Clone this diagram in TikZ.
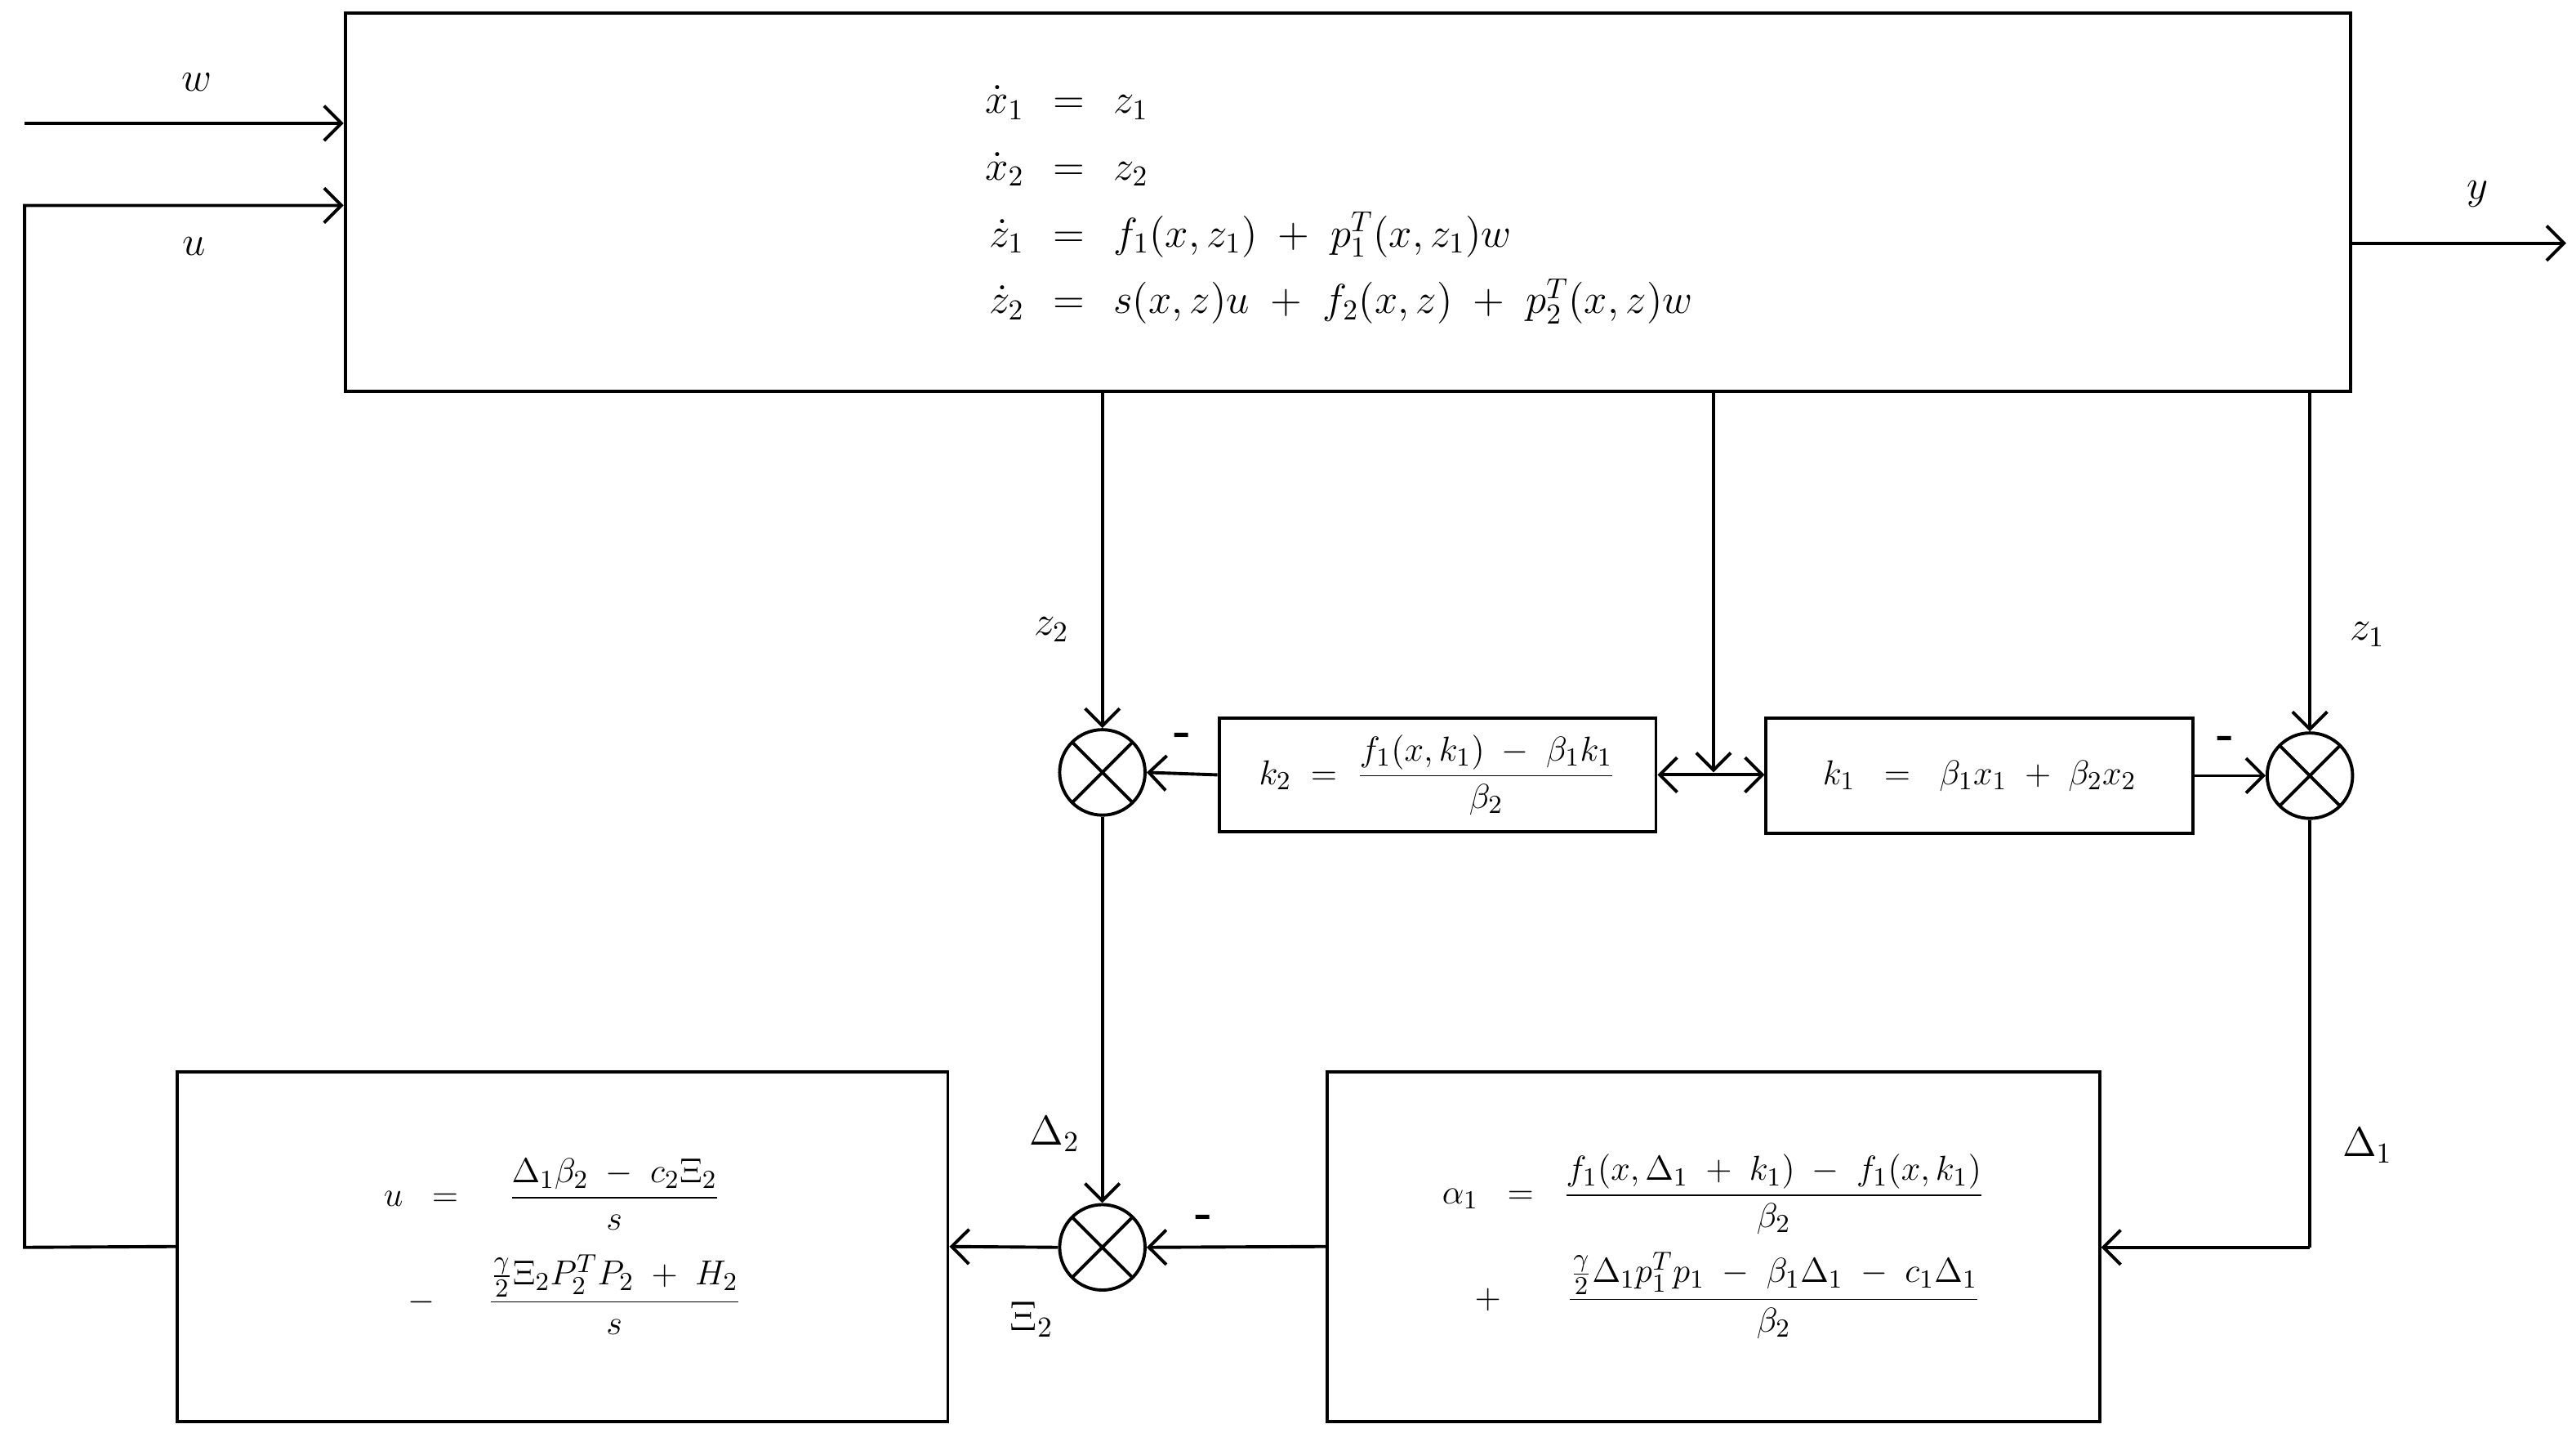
\documentclass[tikz,border=0pt]{standalone}
\usepackage{amsmath}
\usetikzlibrary{arrows.meta}
\begin{document}
\begin{tikzpicture}[x=0.02cm,y=-0.02cm,line width=1.1pt,>=latex,
  box/.style={draw,rectangle,inner sep=0pt},
  sumj/.style={draw,circle,minimum size=1.04cm,inner sep=0pt,
    path picture={\draw[line width=1.1pt] (path picture bounding box.south west)--(path picture bounding box.north east)
      (path picture bounding box.north west)--(path picture bounding box.south east);}},
  lbl/.style={font=\fontsize{14}{16}\selectfont},
  mn/.style={font=\fontsize{16}{16}\selectfont\bfseries},
  arr/.style={->,>={Straight Barb[length=6pt,width=12pt]}}]
\useasboundingbox (0,0) rectangle (1568,877);
\fontsize{13}{16}\selectfont
% boxes
\node[box,minimum width=24.42cm,minimum height=4.6cm] (top) at (820.5,123) {};
\node[font=\fontsize{14.5}{17}\selectfont] at (815,124) {$\begin{array}{rcl}
\dot x_1 &=& z_1\\[6pt]
\dot x_2 &=& z_2\\[6pt]
\dot z_1 &=& f_1(x,z_1)\;+\;p_1^T(x,z_1)w\\[6pt]
\dot z_2 &=& s(x,z)u\;+\;f_2(x,z)\;+\;p_2^T(x,z)w
\end{array}$};
\node[box,minimum width=5.32cm,minimum height=1.38cm] (k2) at (875,471.5) {$k_2\;=\;\dfrac{f_1(x,k_1)\;-\;\beta_1k_1}{\beta_2}$};
\node[box,minimum width=5.2cm,minimum height=1.4cm] (k1) at (1205,472) {$k_1\;\;=\;\;\beta_1x_1\;+\;\beta_2x_2$};
\node[box,minimum width=9.4cm,minimum height=4.26cm] (br) at (1043,758.5) {$\begin{array}{cc}
\alpha_1\;\;= & \dfrac{f_1(x,\Delta_1\;+\;k_1)\;-\;f_1(x,k_1)}{\beta_2}\\[12pt]
+ & \dfrac{\frac{\gamma}{2}\Delta_1p_1^Tp_1\;-\;\beta_1\Delta_1\;-\;c_1\Delta_1}{\beta_2}
\end{array}$};
\node[box,minimum width=9.38cm,minimum height=4.26cm] (bl) at (342.5,758.5) {$\begin{array}{cc}
u\;\;= & \dfrac{\Delta_1\beta_2\;-\;c_2\Xi_2}{s}\\[12pt]
- & \dfrac{\frac{\gamma}{2}\Xi_2P_2^TP_2\;+\;H_2}{s}
\end{array}$};
% summing junctions
\node[sumj] (c2) at (671,470) {};
\node[sumj] (c1) at (1406,472) {};
\node[sumj] (c3) at (671,759) {};
% coordinates
\coordinate (win) at (15,75);
\coordinate (yout) at (1562,148);
\coordinate (uc1) at (15,759);
\coordinate (uc2) at (15,125);
\coordinate (sm) at (1043,238);
\coordinate (jm) at (1043,470);
\coordinate (d1a) at (1406,759);
% connectors
\draw[arr] (win) -- (win -| top.west);
\draw[arr] (bl.west) -- (uc1) -- (uc2) -- (uc2 -| top.west);
\draw[arr] (yout -| top.east) -- (yout);
\draw[arr] (c2.north |- top.south) -- (c2.north);
\draw[arr] (sm) -- (jm);
\draw[arr] (c1.north |- top.south) -- (c1.north);
\draw[arr] (k2.west) -- (c2.east);
\draw[arr,<->] (k2.east) -- (k2.east -| k1.west);
\draw[arr] (k1.east) -- (k1.east -| c1.west);
\draw[arr] (c2.south) -- (c3.north);
\draw (c1.south) -- (d1a);
\draw[arr] (d1a) -- (br.east |- d1a);
\draw[arr] (br.west) -- (c3.east);
\draw[arr] (c3.west) -- (bl.east);
% labels
\node[lbl] at (120,50) {$w$};
\node[lbl] at (118,150) {$u$};
\node[lbl] at (1508,118) {$y$};
\node[lbl] at (640,383) {$z_2$};
\node[lbl] at (1441,386) {$z_1$};
\node[lbl] at (642,690) {$\Delta_2$};
\node[lbl] at (1441,697) {$\Delta_1$};
\node[lbl] at (628,803) {$\Xi_2$};
\node[mn] at (720,450) {-};
\node[mn] at (1355,452) {-};
\node[mn] at (733,743) {-};
\end{tikzpicture}
\end{document}
